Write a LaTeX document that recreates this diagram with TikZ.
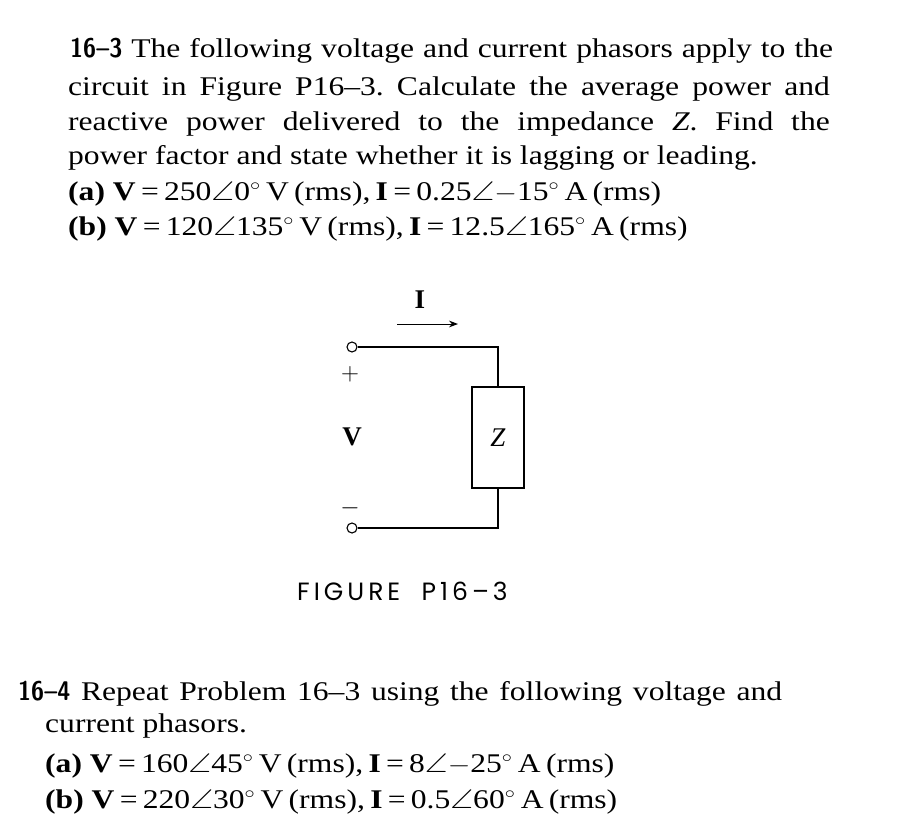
\documentclass[tikz,border=0pt]{standalone}
\usepackage{amsmath,amssymb}
\usepackage{fontspec}
\setmainfont{Liberation Serif}
\newfontfamily\capfont[LetterSpace=16]{Poppins}
\usetikzlibrary{arrows.meta}
\frenchspacing
\newcommand{\pnum}[1]{\scalebox{0.75}[1]{\sffamily\bfseries #1}}
\newcommand{\ang}{$\angle$}
\newcommand{\wide}[1]{\scalebox{1.17}[1]{#1}}
\begin{document}
\begin{tikzpicture}[x=1pt,y=-1pt,
 txt/.style={anchor=base west,inner sep=0pt,font=\fontsize{27}{33}\selectfont},
 wire/.style={line width=1.2pt},
 term/.style={circle,draw,line width=1.1pt,fill=white,inner sep=0pt,minimum size=10pt}]
\useasboundingbox (0,0) rectangle (919,825);
\node[txt] (l1) at (70,57) {\wide{\makebox[652pt][s]{\pnum{16--3} The following voltage and current phasors apply to the}}};
\node[txt] (l2) at (68,95) {\wide{\makebox[651pt][s]{circuit in Figure P16--3. Calculate the average power and}}};
\node[txt] (l3) at (68,130) {\wide{\makebox[651pt][s]{reactive power delivered to the impedance \textit{Z}. Find the}}};
\node[txt] (l4) at (68,164) {\wide{power factor and state whether it is lagging or leading.}};
\node[txt] (l5) at (68,200) {\wide{\textbf{(a)} \textbf{V}\,=\,250\ang0$^\circ$\,V\,(rms),\,\textbf{I}\,=\,0.25\ang$-$15$^\circ$\,A\,(rms)}};
\node[txt] (l6) at (68,235) {\wide{\textbf{(b)} \textbf{V}\,=\,120\ang135$^\circ$\,V\,(rms),\,\textbf{I}\,=\,12.5\ang165$^\circ$\,A\,(rms)}};
% circuit
\node[term] (t1) at (352,347) {};
\node[term] (t2) at (352,528) {};
\node[draw,wire,minimum width=52pt,minimum height=101pt,inner sep=0pt,font=\fontsize{27}{33}\selectfont] (z) at (498,437.5) {\textit{Z}};
\coordinate (c1) at (498,347);
\coordinate (c2) at (498,528);
\draw[wire] (t1) -- (c1) -- (z.north);
\draw[wire] (t2) -- (c2) -- (z.south);
\coordinate (a1) at (397,324);
\coordinate (a2) at (458,324);
\draw[line width=1pt,-{Stealth[length=9pt]}] (a1) -- (a2);
\node[font=\fontsize{27}{33}\selectfont\bfseries] (il) at (420,300) {I};
\node[font=\fontsize{24}{30}\selectfont] (pl) at (350,374) {$+$};
\node[font=\fontsize{27}{33}\selectfont\bfseries] (vl) at (352,437) {V};
\node[font=\fontsize{24}{30}\selectfont] (ml) at (350,508) {$-$};
\node[anchor=base west,inner sep=0pt,font=\capfont\fontsize{25}{30}\selectfont] (cap) at (297,600) {FIGURE\ \ P16–3};
\node[txt] (m1) at (18,700) {\wide{\makebox[653pt][s]{\pnum{16--4} Repeat Problem 16--3 using the following voltage and}}};
\node[txt] (m2) at (45,732) {\wide{current phasors.}};
\node[txt] (m3) at (45,772) {\wide{\textbf{(a)} \textbf{V}\,=\,160\ang45$^\circ$\,V\,(rms),\,\textbf{I}\,=\,8\ang$-$25$^\circ$\,A\,(rms)}};
\node[txt] (m4) at (45,808) {\wide{\textbf{(b)} \textbf{V}\,=\,220\ang30$^\circ$\,V\,(rms),\,\textbf{I}\,=\,0.5\ang60$^\circ$\,A\,(rms)}};
\end{tikzpicture}
\end{document}
